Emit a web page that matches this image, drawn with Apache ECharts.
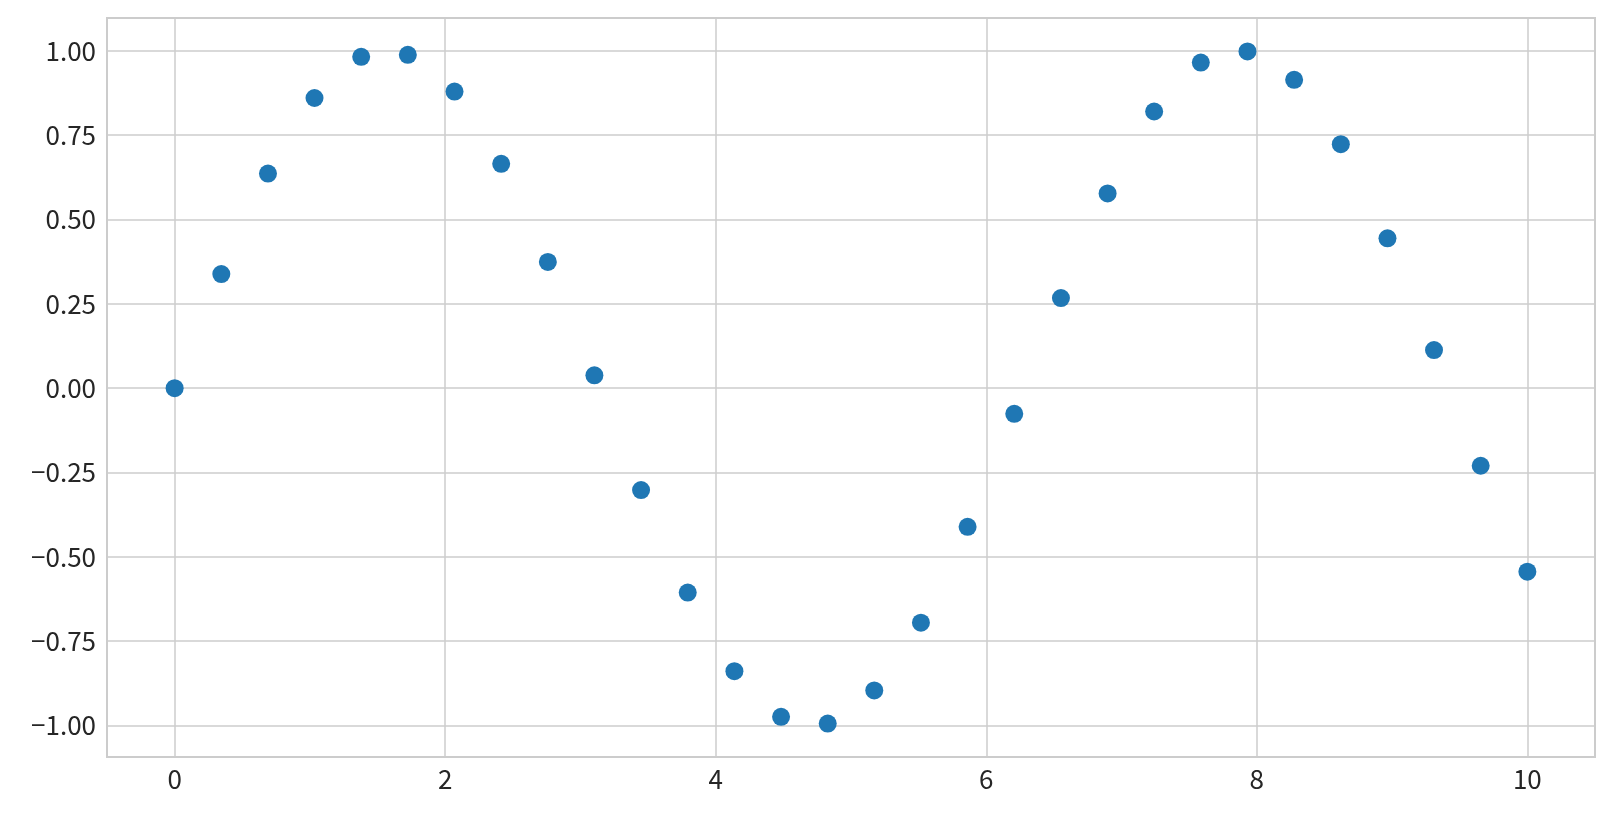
<!DOCTYPE html>
<html><head><meta charset="utf-8">
<script src="https://cdn.jsdelivr.net/npm/echarts@6/dist/echarts.min.js"></script>
<style>html,body{margin:0;padding:0;background:#fff}#c{width:1613px;height:813px}</style>
</head><body><div id="c"></div>
<script>
const xValues = [0, 0.345, 0.690, 1.034, 1.379, 1.724, 2.069, 2.414, 2.759, 3.103, 3.448, 3.793, 4.138, 4.483, 4.828, 5.172, 5.517, 5.862, 6.207, 6.552, 6.897, 7.241, 7.586, 7.931, 8.276, 8.621, 8.966, 9.310, 9.655, 10];
const yValues = [0, 0.338, 0.636, 0.860, 0.982, 0.988, 0.879, 0.665, 0.374, 0.038, -0.302, -0.606, -0.839, -0.974, -0.994, -0.896, -0.695, -0.411, -0.076, 0.267, 0.577, 0.820, 0.965, 0.998, 0.914, 0.723, 0.444, 0.113, -0.230, -0.544];
const xTicks = [0, 2, 4, 6, 8, 10];
const yTicks = [-1, -0.75, -0.5, -0.25, 0, 0.25, 0.5, 0.75, 1];

const chart = echarts.init(document.getElementById('c'), null, {renderer: 'canvas'});
const font = '"Noto Sans CJK JP", "Noto Sans", sans-serif';
const gridLine = {show: true, lineStyle: {color: '#cccccc', width: 1.5}};
chart.setOption({
  animation: false,
  backgroundColor: '#ffffff',
  grid: {left: 107, right: 18, top: 18, bottom: 56, show: true, borderColor: '#cccccc', borderWidth: 2, containLabel: false},
  xAxis: {
    type: 'value', min: -0.5, max: 10.5,
    axisLine: {show: false},
    axisTick: {show: false, customValues: xTicks},
    splitLine: gridLine,
    axisLabel: {
      color: '#262626', fontFamily: font, fontSize: 26, margin: 9,
      customValues: xTicks,
      formatter: v => String(v)
    }
  },
  yAxis: {
    type: 'value', min: -1.0932, max: 1.0971,
    axisLine: {show: false},
    axisTick: {show: false, customValues: yTicks},
    splitLine: gridLine,
    axisLabel: {
      color: '#262626', fontFamily: font, fontSize: 26, margin: 11,
      customValues: yTicks,
      formatter: v => (v < 0 ? '\u2212' : '') + Math.abs(v).toFixed(2)
    }
  },
  series: [{
    type: 'scatter',
    data: xValues.map((x, i) => [x, yValues[i]]),
    symbolSize: 18,
    itemStyle: {color: '#1f77b4', opacity: 1},
    z: 3
  }]
});
</script></body></html>
